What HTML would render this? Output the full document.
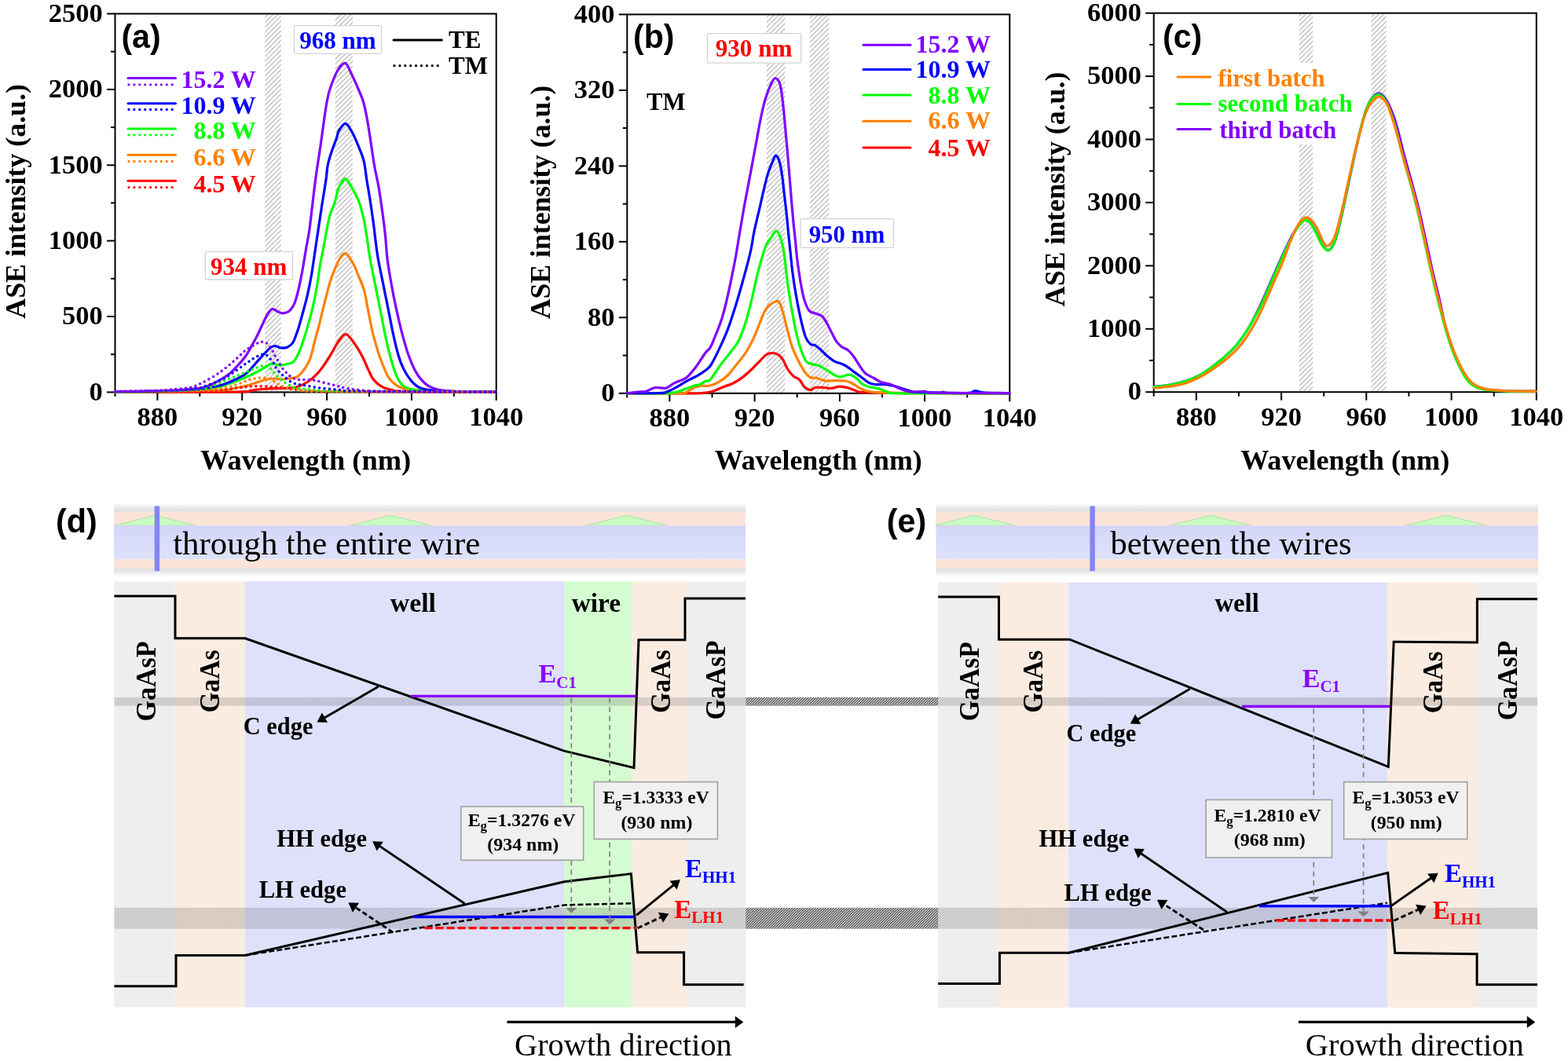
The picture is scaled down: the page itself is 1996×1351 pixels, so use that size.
<!DOCTYPE html><html><head><meta charset="utf-8"><title>ASE spectra and band diagrams</title><style>html,body{margin:0;padding:0;background:#fff;overflow:hidden}</style></head><body>
<svg width="1996" height="1351" viewBox="0 0 1996 1351" style="display:block">
<defs>
<pattern id="hv" patternUnits="userSpaceOnUse" width="6.2" height="6.2">
 <path d="M-1,1 L1,-1 M0,6.2 L6.2,0 M5.2,7.2 L7.2,5.2" stroke="#b0b0b0" stroke-width="1.1"/>
</pattern>
<pattern id="hd" patternUnits="userSpaceOnUse" width="3.3" height="3.3">
 <path d="M-1,1 L1,-1 M0,3.3 L3.3,0 M2.3,4.3 L4.3,2.3" stroke="#303030" stroke-width="1.25"/>
</pattern>
<pattern id="hl" patternUnits="userSpaceOnUse" width="3.3" height="3.3">
 <path d="M-1,1 L1,-1 M0,3.3 L3.3,0 M2.3,4.3 L4.3,2.3" stroke="#303030" stroke-opacity="0.33" stroke-width="1.25"/>
</pattern>
<linearGradient id="shTop" x1="0" y1="0" x2="0" y2="1"><stop offset="0" stop-color="#fff"/><stop offset="1" stop-color="#d9d9d9"/></linearGradient>
<linearGradient id="shBot" x1="0" y1="0" x2="0" y2="1"><stop offset="0" stop-color="#dcdcdc"/><stop offset="1" stop-color="#fff"/></linearGradient>
<linearGradient id="lav" x1="0" y1="0" x2="0" y2="1"><stop offset="0" stop-color="#d3d5f9"/><stop offset="1" stop-color="#dfe2fc"/></linearGradient>
</defs>
<rect x="0" y="0" width="1996" height="1351" fill="#fff"/>
<rect x="337.2" y="18.5" width="20.6" height="479.9" fill="url(#hv)"/>
<rect x="426.8" y="18.5" width="22.1" height="479.9" fill="url(#hv)"/>
<rect x="374.5" y="32.7" width="111.0" height="35.6" rx="1.5" fill="#fff" stroke="#d4d4d4" stroke-width="1.3"/>
<text x="381.2" y="61.6" font-family="'Liberation Serif','Times New Roman',serif" font-size="32.5" font-weight="bold" fill="#0000ff" text-anchor="start" textLength="97.5" lengthAdjust="spacingAndGlyphs" >968 nm</text>
<rect x="261.3" y="320.4" width="111.2" height="35.6" rx="1.5" fill="#fff" stroke="#d4d4d4" stroke-width="1.3"/>
<text x="268.0" y="350.0" font-family="'Liberation Serif','Times New Roman',serif" font-size="32.5" font-weight="bold" fill="#ff0000" text-anchor="start" textLength="97.4" lengthAdjust="spacingAndGlyphs" >934 nm</text>
<rect x="146.5" y="17.5" width="485.2" height="481.9" fill="none" stroke="#000" stroke-width="2"/>
<line x1="146.5" y1="499.4" x2="146.5" y2="504.9" stroke="#000" stroke-width="2"/>
<line x1="200.4" y1="499.4" x2="200.4" y2="509.9" stroke="#000" stroke-width="2"/>
<text x="200.4" y="542.3" font-family="'Liberation Serif','Times New Roman',serif" font-size="34.5" font-weight="bold" fill="#000" text-anchor="middle" >880</text>
<line x1="254.3" y1="499.4" x2="254.3" y2="504.9" stroke="#000" stroke-width="2"/>
<line x1="308.2" y1="499.4" x2="308.2" y2="509.9" stroke="#000" stroke-width="2"/>
<text x="308.2" y="542.3" font-family="'Liberation Serif','Times New Roman',serif" font-size="34.5" font-weight="bold" fill="#000" text-anchor="middle" >920</text>
<line x1="362.1" y1="499.4" x2="362.1" y2="504.9" stroke="#000" stroke-width="2"/>
<line x1="416.1" y1="499.4" x2="416.1" y2="509.9" stroke="#000" stroke-width="2"/>
<text x="416.1" y="542.3" font-family="'Liberation Serif','Times New Roman',serif" font-size="34.5" font-weight="bold" fill="#000" text-anchor="middle" >960</text>
<line x1="470.0" y1="499.4" x2="470.0" y2="504.9" stroke="#000" stroke-width="2"/>
<line x1="523.9" y1="499.4" x2="523.9" y2="509.9" stroke="#000" stroke-width="2"/>
<text x="523.9" y="542.3" font-family="'Liberation Serif','Times New Roman',serif" font-size="34.5" font-weight="bold" fill="#000" text-anchor="middle" >1000</text>
<line x1="577.8" y1="499.4" x2="577.8" y2="504.9" stroke="#000" stroke-width="2"/>
<line x1="631.7" y1="499.4" x2="631.7" y2="509.9" stroke="#000" stroke-width="2"/>
<text x="631.7" y="542.3" font-family="'Liberation Serif','Times New Roman',serif" font-size="34.5" font-weight="bold" fill="#000" text-anchor="middle" >1040</text>
<line x1="136.0" y1="499.4" x2="146.5" y2="499.4" stroke="#000" stroke-width="2"/>
<text x="130.7" y="509.6" font-family="'Liberation Serif','Times New Roman',serif" font-size="34.5" font-weight="bold" fill="#000" text-anchor="end" >0</text>
<line x1="141.0" y1="451.2" x2="146.5" y2="451.2" stroke="#000" stroke-width="2"/>
<line x1="136.0" y1="403.0" x2="146.5" y2="403.0" stroke="#000" stroke-width="2"/>
<text x="130.7" y="413.2" font-family="'Liberation Serif','Times New Roman',serif" font-size="34.5" font-weight="bold" fill="#000" text-anchor="end" >500</text>
<line x1="141.0" y1="354.8" x2="146.5" y2="354.8" stroke="#000" stroke-width="2"/>
<line x1="136.0" y1="306.6" x2="146.5" y2="306.6" stroke="#000" stroke-width="2"/>
<text x="130.7" y="316.8" font-family="'Liberation Serif','Times New Roman',serif" font-size="34.5" font-weight="bold" fill="#000" text-anchor="end" >1000</text>
<line x1="141.0" y1="258.4" x2="146.5" y2="258.4" stroke="#000" stroke-width="2"/>
<line x1="136.0" y1="210.3" x2="146.5" y2="210.3" stroke="#000" stroke-width="2"/>
<text x="130.7" y="220.5" font-family="'Liberation Serif','Times New Roman',serif" font-size="34.5" font-weight="bold" fill="#000" text-anchor="end" >1500</text>
<line x1="141.0" y1="162.1" x2="146.5" y2="162.1" stroke="#000" stroke-width="2"/>
<line x1="136.0" y1="113.9" x2="146.5" y2="113.9" stroke="#000" stroke-width="2"/>
<text x="130.7" y="124.1" font-family="'Liberation Serif','Times New Roman',serif" font-size="34.5" font-weight="bold" fill="#000" text-anchor="end" >2000</text>
<line x1="141.0" y1="65.7" x2="146.5" y2="65.7" stroke="#000" stroke-width="2"/>
<line x1="136.0" y1="17.5" x2="146.5" y2="17.5" stroke="#000" stroke-width="2"/>
<text x="130.7" y="27.7" font-family="'Liberation Serif','Times New Roman',serif" font-size="34.5" font-weight="bold" fill="#000" text-anchor="end" >2500</text>
<text x="389.1" y="597.5" font-family="'Liberation Serif','Times New Roman',serif" font-size="36.0" font-weight="bold" fill="#000" text-anchor="middle" textLength="268.0" lengthAdjust="spacingAndGlyphs" >Wavelength (nm)</text>
<g transform="translate(31.5,256.4) rotate(-90)">
<text x="0.0" y="0.0" font-family="'Liberation Serif','Times New Roman',serif" font-size="36.0" font-weight="bold" fill="#000" text-anchor="middle" textLength="298.7" lengthAdjust="spacingAndGlyphs" >ASE intensity (a.u.)</text>
</g>
<path d="M147.0,499.2 C172.5,499.2 271.2,499.4 300.0,499.0 C328.8,498.6 313.3,497.7 320.0,497.0 C326.7,496.3 333.3,495.4 340.0,495.0 C346.7,494.6 353.9,494.8 360.0,494.5 C366.1,494.2 371.4,494.4 376.8,493.0 C382.2,491.6 387.6,488.9 392.1,486.0 C396.6,483.1 400.3,479.7 404.0,475.7 C407.7,471.7 411.2,466.6 414.3,462.1 C417.4,457.6 420.0,453.2 422.8,448.5 C425.6,443.8 428.4,437.8 431.3,434.0 C434.2,430.2 437.1,425.1 440.3,425.5 C443.5,425.9 447.0,431.6 450.4,436.2 C453.8,440.8 457.7,447.4 460.7,453.0 C463.7,458.6 466.1,464.9 468.5,469.9 C470.9,474.9 472.2,479.1 475.0,482.8 C477.8,486.5 481.4,489.6 485.3,491.9 C489.2,494.2 492.9,495.3 498.3,496.4 C503.7,497.5 495.6,497.9 517.7,498.4 C539.8,498.9 612.1,499.1 631.0,499.2" fill="none" stroke="#ff0000" stroke-width="3.2" stroke-linejoin="round" stroke-linecap="round"/>
<path d="M147.0,499.0 C156.5,498.9 181.8,498.8 204.0,498.5 C226.2,498.2 264.0,497.8 280.0,497.0 C296.0,496.2 293.7,495.2 300.0,494.0 C306.3,492.8 313.0,491.3 318.0,490.0 C323.0,488.7 326.3,487.2 330.0,486.0 C333.7,484.8 336.7,483.7 340.0,483.0 C343.3,482.3 347.0,482.0 350.0,482.0 C353.0,482.0 355.0,483.0 358.0,483.0 C361.0,483.0 364.7,482.5 368.0,482.0 C371.3,481.5 375.0,481.7 378.0,480.0 C381.0,478.3 383.2,475.8 386.0,472.0 C388.8,468.2 392.0,464.0 394.5,457.5 C397.0,451.0 399.2,439.5 401.0,433.0 C402.8,426.5 403.6,423.6 405.0,418.4 C406.4,413.2 407.8,407.2 409.2,401.6 C410.6,396.0 412.0,390.3 413.4,384.7 C414.8,379.1 416.3,372.9 417.7,367.8 C419.1,362.7 420.3,358.5 421.9,353.8 C423.5,349.1 425.6,343.9 427.5,339.7 C429.4,335.5 431.0,331.2 433.1,328.4 C435.2,325.6 437.4,321.5 440.2,322.8 C443.0,324.1 447.4,331.8 450.0,336.2 C452.6,340.6 453.3,343.9 455.5,349.4 C457.7,354.8 461.1,361.3 463.3,368.9 C465.5,376.5 466.8,386.2 468.5,394.8 C470.2,403.4 472.0,413.1 473.7,420.7 C475.4,428.2 477.0,433.6 478.9,440.1 C480.8,446.6 482.7,452.8 485.3,459.5 C487.9,466.2 491.1,475.0 494.4,480.2 C497.6,485.4 500.5,487.9 504.8,490.6 C509.1,493.3 513.8,495.1 520.3,496.4 C526.8,497.7 525.1,498.0 543.6,498.4 C562.1,498.8 616.4,498.9 631.0,499.0" fill="none" stroke="#ff8000" stroke-width="3.2" stroke-linejoin="round" stroke-linecap="round"/>
<path d="M147.0,498.8 C156.5,498.7 183.5,499.0 204.0,498.2 C224.5,497.4 255.7,495.5 270.0,494.0 C284.3,492.5 284.3,490.7 290.0,489.0 C295.7,487.3 299.3,485.8 304.0,484.0 C308.7,482.2 313.7,480.0 318.0,478.0 C322.3,476.0 326.3,474.0 330.0,472.0 C333.7,470.0 337.2,467.5 340.0,466.0 C342.8,464.5 344.3,463.2 347.0,463.0 C349.7,462.8 352.5,465.0 356.0,465.0 C359.5,465.0 365.0,463.8 368.0,463.0 C371.0,462.2 372.0,462.2 374.0,460.0 C376.0,457.8 378.0,454.3 380.0,450.0 C382.0,445.7 384.2,439.3 386.0,434.0 C387.8,428.7 388.9,425.4 390.9,418.4 C392.9,411.3 395.9,400.8 398.0,391.7 C400.1,382.6 402.0,373.0 403.6,363.6 C405.2,354.2 406.4,343.7 407.8,335.5 C409.2,327.3 410.6,321.9 412.0,314.4 C413.4,306.9 414.9,297.5 416.3,290.5 C417.7,283.5 418.9,277.6 420.5,272.2 C422.1,266.8 424.5,263.3 426.1,258.1 C427.7,252.9 428.7,245.6 430.3,241.2 C431.9,236.8 433.9,233.7 435.5,231.5 C437.1,229.3 438.1,226.6 440.2,227.9 C442.3,229.2 445.4,234.5 448.2,239.4 C451.0,244.3 454.6,250.8 457.0,257.2 C459.4,263.6 461.1,270.5 462.8,278.0 C464.5,285.5 465.6,293.3 467.0,302.0 C468.4,310.7 469.1,318.9 471.1,330.0 C473.1,341.1 476.5,357.0 478.9,368.9 C481.3,380.8 483.1,390.4 485.3,401.2 C487.5,412.0 489.6,423.9 491.8,433.6 C494.0,443.3 496.1,451.9 498.3,459.5 C500.5,467.1 502.4,473.7 504.8,478.9 C507.2,484.1 509.3,487.8 512.5,490.6 C515.7,493.4 519.0,494.6 524.2,495.8 C529.4,497.0 536.1,497.3 543.6,497.7 C551.1,498.1 554.9,498.2 569.5,498.4 C584.1,498.6 620.8,498.9 631.0,499.0" fill="none" stroke="#00ff00" stroke-width="3.2" stroke-linejoin="round" stroke-linecap="round"/>
<path d="M147.0,498.8 C156.5,498.7 186.8,498.5 204.0,498.0 C221.2,497.5 239.0,496.8 250.0,496.0 C261.0,495.2 264.0,494.2 270.0,493.0 C276.0,491.8 281.0,490.7 286.0,489.0 C291.0,487.3 295.3,485.3 300.0,483.0 C304.7,480.7 309.7,478.5 314.0,475.0 C318.3,471.5 322.3,466.0 326.0,462.0 C329.7,458.0 333.0,454.2 336.0,451.0 C339.0,447.8 341.7,444.8 344.0,443.0 C346.3,441.2 347.7,440.5 350.0,440.5 C352.3,440.5 355.3,442.8 358.0,443.0 C360.7,443.2 363.5,443.2 366.0,442.0 C368.5,440.8 370.7,439.9 373.0,436.0 C375.3,432.1 377.6,424.6 379.7,418.4 C381.8,412.2 383.4,405.6 385.3,398.8 C387.2,392.0 389.0,385.9 390.9,377.7 C392.8,369.5 395.0,358.9 396.6,349.5 C398.2,340.1 399.4,330.8 400.8,321.4 C402.2,312.0 403.6,302.7 405.0,293.3 C406.4,283.9 407.6,275.8 409.2,265.2 C410.8,254.6 413.5,239.0 414.8,230.0 C416.1,221.0 416.0,216.8 417.1,211.0 C418.2,205.2 419.6,200.9 421.5,195.0 C423.4,189.1 427.0,180.2 428.6,175.5 C430.2,170.8 429.4,169.6 431.3,166.6 C433.2,163.6 437.0,157.0 439.8,157.3 C442.6,157.6 445.3,163.2 448.2,168.3 C451.1,173.4 454.5,181.7 457.0,187.9 C459.5,194.1 461.7,198.8 463.3,205.6 C464.9,212.4 465.5,220.4 466.8,228.7 C468.1,237.0 469.8,246.0 471.2,255.4 C472.6,264.8 474.3,275.9 475.5,285.0 C476.7,294.1 477.5,302.5 478.5,310.0 C479.5,317.5 479.8,321.3 481.4,330.0 C483.0,338.7 485.7,351.6 487.9,362.4 C490.1,373.2 492.2,384.0 494.4,394.8 C496.6,405.6 498.8,417.4 500.9,427.1 C503.0,436.8 505.2,445.9 507.3,453.0 C509.4,460.1 511.2,464.7 513.8,469.9 C516.4,475.1 519.6,480.2 522.9,484.1 C526.1,488.0 528.8,491.0 533.3,493.2 C537.8,495.4 542.3,496.2 550.1,497.1 C557.9,498.0 566.5,498.2 580.0,498.5 C593.5,498.8 622.5,498.9 631.0,499.0" fill="none" stroke="#0000ff" stroke-width="3.2" stroke-linejoin="round" stroke-linecap="round"/>
<path d="M147.0,498.5 C152.5,498.4 170.5,498.2 180.0,498.0 C189.5,497.8 195.7,497.8 204.0,497.5 C212.3,497.2 220.7,497.2 230.0,496.5 C239.3,495.8 252.0,494.9 260.0,493.0 C268.0,491.1 272.7,487.8 278.0,485.0 C283.3,482.2 287.8,479.3 292.0,476.0 C296.2,472.7 299.5,468.8 303.0,465.0 C306.5,461.2 310.2,457.0 313.0,453.0 C315.8,449.0 318.0,444.5 320.0,441.0 C322.0,437.5 323.3,435.2 325.0,432.0 C326.7,428.8 328.0,426.2 330.0,422.0 C332.0,417.8 335.0,411.0 337.0,407.0 C339.0,403.0 340.3,400.2 342.0,398.0 C343.7,395.8 345.0,393.7 347.0,393.5 C349.0,393.3 351.8,396.1 354.0,397.0 C356.2,397.9 357.6,399.0 360.0,398.8 C362.4,398.6 365.8,398.2 368.4,395.9 C371.0,393.5 373.4,390.1 375.5,384.7 C377.6,379.3 379.5,370.6 381.1,363.6 C382.7,356.6 383.9,350.2 385.3,342.5 C386.7,334.8 388.1,325.4 389.5,317.2 C390.9,309.0 392.4,303.1 393.8,293.3 C395.2,283.5 396.6,270.0 398.0,258.1 C399.4,246.2 400.8,234.3 402.5,222.0 C404.2,209.7 406.5,195.9 408.2,184.3 C409.9,172.7 411.2,161.9 412.6,152.4 C414.0,142.9 415.2,134.3 416.5,127.5 C417.8,120.7 418.4,117.7 420.6,111.5 C422.8,105.3 426.4,95.4 429.5,90.2 C432.6,85.0 436.5,80.1 439.3,80.4 C442.1,80.7 443.7,86.8 446.4,92.0 C449.1,97.2 452.6,105.3 455.3,111.5 C458.0,117.7 460.5,123.1 462.4,129.3 C464.3,135.5 465.3,141.1 466.8,148.8 C468.3,156.5 469.6,165.1 471.2,175.5 C472.8,185.9 474.8,200.7 476.6,211.0 C478.4,221.3 480.1,227.2 481.9,237.6 C483.7,247.9 485.8,262.7 487.2,273.1 C488.6,283.5 489.5,290.5 490.5,300.0 C491.5,309.5 491.8,319.6 493.1,330.0 C494.4,340.4 496.4,351.6 498.3,362.4 C500.2,373.2 502.4,384.0 504.8,394.8 C507.2,405.6 509.9,417.4 512.5,427.1 C515.1,436.8 517.7,445.6 520.3,453.0 C522.9,460.4 525.5,466.2 528.1,471.2 C530.7,476.2 532.8,479.4 535.8,482.8 C538.8,486.2 541.7,489.5 546.2,491.9 C550.7,494.3 555.7,496.0 563.0,497.1 C570.3,498.2 578.7,498.3 590.0,498.6 C601.3,498.9 624.2,498.9 631.0,499.0" fill="none" stroke="#8000ff" stroke-width="3.2" stroke-linejoin="round" stroke-linecap="round"/>
<path d="M147.0,499.2 C164.2,499.1 226.2,499.1 250.0,498.5 C273.8,497.9 280.0,496.4 290.0,495.5 C300.0,494.6 305.0,493.6 310.0,493.0 C315.0,492.4 315.0,492.2 320.0,492.0 C325.0,491.8 334.2,491.8 340.0,492.0 C345.8,492.2 350.0,492.4 355.0,493.0 C360.0,493.6 364.2,494.8 370.0,495.5 C375.8,496.2 381.7,497.0 390.0,497.5 C398.3,498.0 379.8,498.4 420.0,498.7 C460.2,499.0 595.8,499.1 631.0,499.2" fill="none" stroke="#ff0000" stroke-width="3.6" stroke-linecap="round" stroke-dasharray="0 6.4"/>
<path d="M147.0,499.0 C156.5,498.9 183.5,499.1 204.0,498.6 C224.5,498.1 255.7,496.9 270.0,496.0 C284.3,495.1 285.0,494.0 290.0,493.0 C295.0,492.0 296.8,491.0 300.0,490.0 C303.2,489.0 306.3,488.0 309.0,487.0 C311.7,486.0 313.8,484.8 316.0,484.0 C318.2,483.2 319.7,483.0 322.0,482.5 C324.3,482.0 327.7,481.2 330.0,481.0 C332.3,480.8 334.0,480.8 336.0,481.0 C338.0,481.2 340.0,481.3 342.0,482.0 C344.0,482.7 346.0,483.8 348.0,485.0 C350.0,486.2 352.0,487.8 354.0,489.0 C356.0,490.2 358.0,491.2 360.0,492.0 C362.0,492.8 362.7,493.2 366.0,494.0 C369.3,494.8 372.7,495.8 380.0,496.5 C387.3,497.2 368.2,497.9 410.0,498.3 C451.8,498.7 594.2,498.9 631.0,499.0" fill="none" stroke="#ff8000" stroke-width="3.6" stroke-linecap="round" stroke-dasharray="0 6.4"/>
<path d="M147.0,499.0 C156.5,498.9 185.2,499.0 204.0,498.3 C222.8,497.6 247.7,496.7 260.0,495.0 C272.3,493.3 273.0,490.0 278.0,488.0 C283.0,486.0 285.8,484.7 290.0,483.0 C294.2,481.3 299.2,479.5 303.0,478.0 C306.8,476.5 310.2,475.2 313.0,474.0 C315.8,472.8 317.8,471.9 320.0,471.0 C322.2,470.1 323.8,469.3 326.0,468.5 C328.2,467.7 330.7,466.4 333.0,466.0 C335.3,465.6 338.0,465.3 340.0,466.0 C342.0,466.7 343.5,468.5 345.0,470.0 C346.5,471.5 347.5,473.3 349.0,475.0 C350.5,476.7 352.2,478.3 354.0,480.0 C355.8,481.7 358.2,483.6 360.0,485.0 C361.8,486.4 363.2,487.3 365.0,488.5 C366.8,489.7 368.8,491.1 371.0,492.0 C373.2,492.9 373.2,493.2 378.0,494.0 C382.8,494.8 391.3,495.8 400.0,496.5 C408.7,497.2 391.5,497.6 430.0,498.0 C468.5,498.4 597.5,498.8 631.0,499.0" fill="none" stroke="#00ff00" stroke-width="3.6" stroke-linecap="round" stroke-dasharray="0 6.4"/>
<path d="M147.0,498.8 C156.5,498.6 186.8,498.4 204.0,497.8 C221.2,497.2 240.2,496.1 250.0,495.0 C259.8,493.9 258.7,492.5 263.0,491.0 C267.3,489.5 272.0,487.7 276.0,486.0 C280.0,484.3 283.2,483.2 287.0,481.0 C290.8,478.8 295.2,475.7 299.0,473.0 C302.8,470.3 307.2,467.0 310.0,465.0 C312.8,463.0 314.2,462.2 316.0,461.0 C317.8,459.8 319.2,458.7 321.0,457.5 C322.8,456.3 325.0,455.0 327.0,454.0 C329.0,453.0 331.0,451.8 333.0,451.5 C335.0,451.2 337.2,451.1 339.0,452.0 C340.8,452.9 342.5,455.3 344.0,457.0 C345.5,458.7 346.8,460.2 348.0,462.0 C349.2,463.8 349.8,466.2 351.0,468.0 C352.2,469.8 353.5,471.3 355.0,473.0 C356.5,474.7 358.3,476.5 360.0,478.0 C361.7,479.5 363.3,480.7 365.0,482.0 C366.7,483.3 368.0,484.8 370.0,486.0 C372.0,487.2 374.8,488.3 377.0,489.0 C379.2,489.7 380.8,489.7 383.0,490.0 C385.2,490.3 386.5,490.4 390.0,491.0 C393.5,491.6 397.4,492.7 404.0,493.6 C410.6,494.5 421.1,495.5 429.6,496.2 C438.1,496.9 421.4,497.4 455.0,497.9 C488.6,498.4 601.7,498.8 631.0,499.0" fill="none" stroke="#0000ff" stroke-width="3.6" stroke-linecap="round" stroke-dasharray="0 6.4"/>
<path d="M147.0,498.5 C156.5,498.2 188.8,497.8 204.0,497.0 C219.2,496.2 230.3,495.0 238.0,494.0 C245.7,493.0 247.0,492.0 250.0,491.0 C253.0,490.0 254.0,489.0 256.0,488.0 C258.0,487.0 259.0,486.7 262.0,485.0 C265.0,483.3 270.3,480.3 274.0,478.0 C277.7,475.7 280.7,473.5 284.0,471.0 C287.3,468.5 290.7,465.8 294.0,463.0 C297.3,460.2 300.7,457.0 304.0,454.0 C307.3,451.0 310.3,447.7 314.0,445.0 C317.7,442.3 323.0,439.6 326.0,438.0 C329.0,436.4 330.0,435.8 332.0,435.5 C334.0,435.2 336.2,435.1 338.0,436.0 C339.8,436.9 341.5,439.2 343.0,441.0 C344.5,442.8 345.8,445.0 347.0,447.0 C348.2,449.0 349.0,451.2 350.0,453.0 C351.0,454.8 351.9,456.2 353.0,458.0 C354.1,459.8 355.3,462.1 356.5,464.0 C357.7,465.9 358.6,467.7 360.0,469.5 C361.4,471.3 363.3,473.3 365.0,475.0 C366.7,476.7 368.0,478.2 370.0,479.5 C372.0,480.8 374.8,482.3 377.0,483.0 C379.2,483.7 380.8,483.4 383.0,483.5 C385.2,483.6 387.1,483.4 390.0,483.5 C392.9,483.6 396.6,483.6 400.6,484.3 C404.7,485.0 409.8,486.6 414.3,487.7 C418.9,488.8 423.4,490.0 427.9,491.1 C432.4,492.2 435.8,493.5 441.5,494.5 C447.2,495.5 454.0,496.3 461.9,497.0 C469.8,497.7 460.9,498.4 489.1,498.7 C517.3,499.0 607.4,498.9 631.0,499.0" fill="none" stroke="#8000ff" stroke-width="3.6" stroke-linecap="round" stroke-dasharray="0 6.4"/>
<text x="154.4" y="60.6" font-family="'Liberation Sans',Arial,sans-serif" font-size="42.5" font-weight="bold" fill="#000" text-anchor="start" textLength="50.4" lengthAdjust="spacingAndGlyphs" >(a)</text>
<line x1="163" y1="99.5" x2="223.5" y2="99.5" stroke="#8000ff" stroke-width="3" stroke-linecap="round"/>
<line x1="164" y1="107.8" x2="221" y2="107.8" stroke="#8000ff" stroke-width="3.3" stroke-linecap="round" stroke-dasharray="0 6.9"/>
<text x="325.8" y="112.0" font-family="'Liberation Serif','Times New Roman',serif" font-size="32.0" font-weight="bold" fill="#8000ff" text-anchor="end" >15.2 W</text>
<line x1="163" y1="131.8" x2="223.5" y2="131.8" stroke="#0000ff" stroke-width="3" stroke-linecap="round"/>
<line x1="164" y1="139.5" x2="221" y2="139.5" stroke="#0000ff" stroke-width="3.3" stroke-linecap="round" stroke-dasharray="0 6.9"/>
<text x="325.8" y="145.3" font-family="'Liberation Serif','Times New Roman',serif" font-size="32.0" font-weight="bold" fill="#0000ff" text-anchor="end" >10.9 W</text>
<line x1="163" y1="163.9" x2="223.5" y2="163.9" stroke="#00ff00" stroke-width="3" stroke-linecap="round"/>
<line x1="164" y1="171.8" x2="221" y2="171.8" stroke="#00ff00" stroke-width="3.3" stroke-linecap="round" stroke-dasharray="0 6.9"/>
<text x="325.8" y="177.4" font-family="'Liberation Serif','Times New Roman',serif" font-size="32.0" font-weight="bold" fill="#00ff00" text-anchor="end" >8.8 W</text>
<line x1="163" y1="197.2" x2="223.5" y2="197.2" stroke="#ff8000" stroke-width="3" stroke-linecap="round"/>
<line x1="164" y1="205.5" x2="221" y2="205.5" stroke="#ff8000" stroke-width="3.3" stroke-linecap="round" stroke-dasharray="0 6.9"/>
<text x="325.8" y="210.7" font-family="'Liberation Serif','Times New Roman',serif" font-size="32.0" font-weight="bold" fill="#ff8000" text-anchor="end" >6.6 W</text>
<line x1="163" y1="230.3" x2="223.5" y2="230.3" stroke="#ff0000" stroke-width="3" stroke-linecap="round"/>
<line x1="164" y1="238.6" x2="221" y2="238.6" stroke="#ff0000" stroke-width="3.3" stroke-linecap="round" stroke-dasharray="0 6.9"/>
<text x="325.8" y="245.3" font-family="'Liberation Serif','Times New Roman',serif" font-size="32.0" font-weight="bold" fill="#ff0000" text-anchor="end" >4.5 W</text>
<line x1="501" y1="51" x2="562.4" y2="51" stroke="#000" stroke-width="3" stroke-linecap="round"/>
<line x1="502" y1="83.7" x2="558" y2="83.7" stroke="#000" stroke-width="3.3" stroke-linecap="round" stroke-dasharray="0 6.9"/>
<text x="571.1" y="60.6" font-family="'Liberation Serif','Times New Roman',serif" font-size="31.0" font-weight="bold" fill="#000" text-anchor="start" >TE</text>
<text x="571.1" y="93.7" font-family="'Liberation Serif','Times New Roman',serif" font-size="31.0" font-weight="bold" fill="#000" text-anchor="start" >TM</text>
<rect x="975.8" y="19.4" width="23.6" height="480.4" fill="url(#hv)"/>
<rect x="1030.9" y="19.4" width="24.5" height="480.4" fill="url(#hv)"/>
<rect x="900.4" y="42.6" width="119.2" height="37.6" rx="1.5" fill="#fff" stroke="#d4d4d4" stroke-width="1.3"/>
<text x="910.7" y="72.4" font-family="'Liberation Serif','Times New Roman',serif" font-size="32.5" font-weight="bold" fill="#ff0000" text-anchor="start" textLength="97.8" lengthAdjust="spacingAndGlyphs" >930 nm</text>
<rect x="1018.9" y="278.6" width="118.6" height="36.7" rx="1.5" fill="#fff" stroke="#d4d4d4" stroke-width="1.3"/>
<text x="1029.7" y="308.5" font-family="'Liberation Serif','Times New Roman',serif" font-size="32.5" font-weight="bold" fill="#0000ff" text-anchor="start" textLength="96.6" lengthAdjust="spacingAndGlyphs" >950 nm</text>
<rect x="798.3" y="18.4" width="487.0" height="482.4" fill="none" stroke="#000" stroke-width="2"/>
<line x1="798.3" y1="500.8" x2="798.3" y2="506.3" stroke="#000" stroke-width="2"/>
<line x1="852.4" y1="500.8" x2="852.4" y2="511.3" stroke="#000" stroke-width="2"/>
<text x="852.4" y="543.3" font-family="'Liberation Serif','Times New Roman',serif" font-size="34.5" font-weight="bold" fill="#000" text-anchor="middle" >880</text>
<line x1="906.5" y1="500.8" x2="906.5" y2="506.3" stroke="#000" stroke-width="2"/>
<line x1="960.6" y1="500.8" x2="960.6" y2="511.3" stroke="#000" stroke-width="2"/>
<text x="960.6" y="543.3" font-family="'Liberation Serif','Times New Roman',serif" font-size="34.5" font-weight="bold" fill="#000" text-anchor="middle" >920</text>
<line x1="1014.7" y1="500.8" x2="1014.7" y2="506.3" stroke="#000" stroke-width="2"/>
<line x1="1068.9" y1="500.8" x2="1068.9" y2="511.3" stroke="#000" stroke-width="2"/>
<text x="1068.9" y="543.3" font-family="'Liberation Serif','Times New Roman',serif" font-size="34.5" font-weight="bold" fill="#000" text-anchor="middle" >960</text>
<line x1="1123.0" y1="500.8" x2="1123.0" y2="506.3" stroke="#000" stroke-width="2"/>
<line x1="1177.1" y1="500.8" x2="1177.1" y2="511.3" stroke="#000" stroke-width="2"/>
<text x="1177.1" y="543.3" font-family="'Liberation Serif','Times New Roman',serif" font-size="34.5" font-weight="bold" fill="#000" text-anchor="middle" >1000</text>
<line x1="1231.2" y1="500.8" x2="1231.2" y2="506.3" stroke="#000" stroke-width="2"/>
<line x1="1285.3" y1="500.8" x2="1285.3" y2="511.3" stroke="#000" stroke-width="2"/>
<text x="1285.3" y="543.3" font-family="'Liberation Serif','Times New Roman',serif" font-size="34.5" font-weight="bold" fill="#000" text-anchor="middle" >1040</text>
<line x1="787.8" y1="500.8" x2="798.3" y2="500.8" stroke="#000" stroke-width="2"/>
<text x="782.5" y="511.0" font-family="'Liberation Serif','Times New Roman',serif" font-size="34.5" font-weight="bold" fill="#000" text-anchor="end" >0</text>
<line x1="792.8" y1="452.6" x2="798.3" y2="452.6" stroke="#000" stroke-width="2"/>
<line x1="787.8" y1="404.3" x2="798.3" y2="404.3" stroke="#000" stroke-width="2"/>
<text x="782.5" y="414.5" font-family="'Liberation Serif','Times New Roman',serif" font-size="34.5" font-weight="bold" fill="#000" text-anchor="end" >80</text>
<line x1="792.8" y1="356.1" x2="798.3" y2="356.1" stroke="#000" stroke-width="2"/>
<line x1="787.8" y1="307.8" x2="798.3" y2="307.8" stroke="#000" stroke-width="2"/>
<text x="782.5" y="318.0" font-family="'Liberation Serif','Times New Roman',serif" font-size="34.5" font-weight="bold" fill="#000" text-anchor="end" >160</text>
<line x1="792.8" y1="259.6" x2="798.3" y2="259.6" stroke="#000" stroke-width="2"/>
<line x1="787.8" y1="211.4" x2="798.3" y2="211.4" stroke="#000" stroke-width="2"/>
<text x="782.5" y="221.6" font-family="'Liberation Serif','Times New Roman',serif" font-size="34.5" font-weight="bold" fill="#000" text-anchor="end" >240</text>
<line x1="792.8" y1="163.1" x2="798.3" y2="163.1" stroke="#000" stroke-width="2"/>
<line x1="787.8" y1="114.9" x2="798.3" y2="114.9" stroke="#000" stroke-width="2"/>
<text x="782.5" y="125.1" font-family="'Liberation Serif','Times New Roman',serif" font-size="34.5" font-weight="bold" fill="#000" text-anchor="end" >320</text>
<line x1="792.8" y1="66.6" x2="798.3" y2="66.6" stroke="#000" stroke-width="2"/>
<line x1="787.8" y1="18.4" x2="798.3" y2="18.4" stroke="#000" stroke-width="2"/>
<text x="782.5" y="28.6" font-family="'Liberation Serif','Times New Roman',serif" font-size="34.5" font-weight="bold" fill="#000" text-anchor="end" >400</text>
<text x="1041.8" y="597.5" font-family="'Liberation Serif','Times New Roman',serif" font-size="36.0" font-weight="bold" fill="#000" text-anchor="middle" textLength="264.0" lengthAdjust="spacingAndGlyphs" >Wavelength (nm)</text>
<g transform="translate(700.0,257.6) rotate(-90)">
<text x="0.0" y="0.0" font-family="'Liberation Serif','Times New Roman',serif" font-size="36.0" font-weight="bold" fill="#000" text-anchor="middle" textLength="297.3" lengthAdjust="spacingAndGlyphs" >ASE intensity (a.u.)</text>
</g>
<path d="M798.5,500.8 C812.1,500.8 864.2,500.9 880.0,500.8 C895.8,500.8 889.1,500.8 893.4,500.5 C897.6,500.2 901.0,500.1 905.5,498.8 C910.0,497.5 916.2,494.5 920.7,492.7 C925.2,490.9 928.8,490.2 932.8,488.2 C936.8,486.2 941.0,483.6 945.0,480.6 C949.0,477.6 953.6,473.3 957.1,470.0 C960.6,466.7 963.2,463.9 966.2,460.8 C969.2,457.8 972.5,453.6 975.3,451.7 C978.1,449.8 980.4,449.5 982.9,449.5 C985.4,449.5 988.2,450.3 990.5,451.7 C992.8,453.1 994.6,454.8 996.6,457.8 C998.6,460.9 1000.3,466.4 1002.6,470.0 C1004.9,473.6 1007.7,476.8 1010.2,479.1 C1012.7,481.4 1015.5,481.3 1017.8,483.6 C1020.1,485.9 1021.6,490.6 1023.9,492.7 C1026.2,494.8 1029.2,496.4 1031.5,496.5 C1033.8,496.6 1034.7,494.0 1037.5,493.5 C1040.3,493.0 1045.7,493.4 1048.2,493.5 C1050.7,493.6 1050.5,493.9 1052.5,494.0 C1054.5,494.1 1057.3,494.5 1060.0,494.2 C1062.7,493.9 1065.5,492.1 1068.8,492.1 C1072.1,492.1 1076.5,493.1 1080.1,494.0 C1083.6,494.9 1086.3,496.8 1090.1,497.7 C1093.8,498.6 1085.9,499.1 1102.6,499.6 C1119.2,500.1 1173.7,500.6 1190.0,500.5 C1206.3,500.4 1197.0,499.0 1200.3,499.0 C1203.6,499.0 1195.9,500.2 1210.0,500.5 C1224.1,500.8 1272.5,500.8 1285.0,500.8" fill="none" stroke="#ff0000" stroke-width="3.2" stroke-linejoin="round" stroke-linecap="round"/>
<path d="M798.5,500.8 C809.6,500.8 852.8,500.9 865.0,500.8 C877.2,500.8 868.5,501.7 871.6,500.5 C874.7,499.3 879.9,495.2 883.4,493.6 C886.9,492.1 889.7,491.6 892.9,491.2 C896.1,490.8 898.9,492.0 902.5,491.2 C906.1,490.4 910.6,488.9 914.6,486.6 C918.6,484.3 922.8,481.5 926.8,477.5 C930.8,473.5 935.1,467.2 938.9,462.4 C942.7,457.6 946.2,453.8 949.5,448.7 C952.8,443.6 955.8,437.8 958.6,432.0 C961.4,426.2 963.9,419.4 966.2,413.8 C968.5,408.2 970.3,402.7 972.3,398.6 C974.3,394.6 975.6,392.0 978.4,389.5 C981.2,387.0 986.5,383.8 989.0,383.5 C991.5,383.2 992.0,384.7 993.5,388.0 C995.0,391.3 996.6,397.6 998.1,403.2 C999.6,408.8 1000.8,414.8 1002.6,421.4 C1004.4,428.0 1006.4,436.3 1008.7,442.6 C1011.0,448.9 1013.8,454.2 1016.3,459.3 C1018.8,464.4 1021.4,469.4 1023.9,473.0 C1026.4,476.6 1029.0,479.2 1031.5,480.6 C1034.0,482.0 1036.3,480.7 1039.1,481.3 C1041.9,481.9 1046.0,483.8 1048.2,484.4 C1050.4,485.0 1049.7,485.2 1052.5,485.2 C1055.3,485.2 1060.8,484.6 1065.0,484.6 C1069.2,484.6 1074.0,484.5 1077.6,485.2 C1081.1,485.9 1083.2,487.3 1086.3,489.0 C1089.4,490.7 1092.6,493.5 1096.4,495.2 C1100.2,496.9 1103.7,498.2 1108.9,499.0 C1114.1,499.8 1119.2,499.9 1127.7,500.2 C1136.2,500.4 1152.7,500.8 1160.0,500.5 C1167.3,500.2 1168.2,498.4 1171.5,498.4 C1174.8,498.4 1161.1,500.1 1180.0,500.5 C1198.9,500.9 1267.5,500.8 1285.0,500.8" fill="none" stroke="#ff8000" stroke-width="3.2" stroke-linejoin="round" stroke-linecap="round"/>
<path d="M798.5,500.8 C806.3,500.8 835.2,501.0 845.5,500.8 C855.8,500.6 856.2,500.1 860.0,499.5 C863.8,498.9 864.1,498.5 868.0,497.1 C871.9,495.7 879.7,492.4 883.4,491.2 C887.1,490.0 887.7,490.7 890.3,489.7 C892.9,488.7 896.5,486.0 898.8,485.0 C901.1,484.0 900.9,487.1 904.0,483.6 C907.1,480.1 913.4,469.7 917.7,463.9 C922.0,458.1 926.0,453.8 929.8,448.7 C933.6,443.6 937.1,440.1 940.4,433.5 C943.7,426.9 946.7,418.2 949.5,409.3 C952.3,400.4 954.8,389.8 957.1,380.4 C959.4,371.0 961.2,361.5 963.2,353.1 C965.2,344.8 967.3,337.1 969.3,330.3 C971.3,323.5 973.4,316.5 975.3,312.1 C977.2,307.7 978.7,306.8 980.8,303.8 C982.9,300.8 985.8,294.3 987.9,294.0 C990.0,293.7 991.5,297.2 993.2,302.0 C994.9,306.8 996.5,313.0 998.1,322.8 C999.7,332.6 1000.8,348.1 1002.6,360.7 C1004.4,373.3 1006.7,387.2 1008.7,398.6 C1010.7,410.0 1012.8,420.6 1014.8,429.0 C1016.8,437.4 1018.8,443.4 1020.8,448.7 C1022.8,454.0 1024.6,458.4 1026.9,460.9 C1029.2,463.4 1032.0,463.1 1034.5,463.9 C1037.0,464.6 1039.1,464.1 1042.1,465.4 C1045.1,466.6 1048.7,469.1 1052.5,471.4 C1056.3,473.6 1061.9,477.5 1065.0,478.9 C1068.1,480.3 1068.6,479.9 1071.3,479.6 C1074.0,479.3 1078.2,476.8 1081.3,477.1 C1084.4,477.4 1087.4,479.5 1090.1,481.5 C1092.8,483.5 1094.9,487.1 1097.6,489.0 C1100.3,490.9 1103.1,491.8 1106.4,492.7 C1109.8,493.6 1113.7,493.6 1117.7,494.6 C1121.7,495.7 1125.4,497.9 1130.2,499.0 C1135.0,500.1 1120.7,500.6 1146.5,500.9 C1172.3,501.2 1261.9,500.8 1285.0,500.8" fill="none" stroke="#00ff00" stroke-width="3.2" stroke-linejoin="round" stroke-linecap="round"/>
<path d="M798.5,500.7 C805.4,500.7 831.4,500.9 840.0,500.5 C848.6,500.1 846.6,499.7 850.3,498.3 C854.0,496.9 858.1,494.6 862.1,492.4 C866.1,490.2 869.6,487.7 874.0,485.3 C878.4,482.9 884.1,480.6 888.2,478.2 C892.3,475.8 895.9,473.5 898.8,471.1 C901.7,468.7 902.4,469.1 905.5,463.9 C908.6,458.6 914.2,447.2 917.7,439.6 C921.2,432.0 923.8,426.5 926.8,418.4 C929.8,410.3 933.1,399.9 935.9,391.0 C938.7,382.1 941.0,374.2 943.5,365.3 C946.0,356.4 948.9,345.8 951.0,337.9 C953.1,330.0 954.4,325.1 955.9,318.0 C957.4,310.9 958.2,303.6 960.0,295.0 C961.8,286.4 964.6,275.1 966.6,266.5 C968.6,257.9 970.1,250.8 971.9,243.4 C973.7,236.0 975.4,228.0 977.2,222.1 C979.0,216.2 980.9,211.9 982.6,207.9 C984.3,203.9 985.9,198.4 987.5,198.1 C989.1,197.8 990.9,201.5 992.3,206.1 C993.7,210.7 994.9,218.5 995.9,225.6 C996.9,232.7 997.6,241.0 998.5,248.7 C999.4,256.4 1000.4,263.8 1001.2,271.8 C1002.1,279.9 1002.8,289.0 1003.6,297.0 C1004.4,305.0 1005.1,311.9 1006.0,320.0 C1006.9,328.1 1007.5,336.2 1008.7,345.5 C1009.9,354.8 1011.5,365.8 1013.3,375.9 C1015.1,386.0 1017.3,397.3 1019.3,406.2 C1021.3,415.1 1023.4,423.7 1025.4,429.0 C1027.4,434.3 1029.5,436.3 1031.5,438.1 C1033.5,439.9 1035.2,438.3 1037.5,439.6 C1039.8,440.9 1042.6,443.5 1045.1,445.7 C1047.6,447.9 1049.7,450.6 1052.6,453.0 C1055.5,455.4 1059.4,458.5 1062.5,460.2 C1065.6,461.9 1068.8,462.3 1071.3,463.3 C1073.8,464.3 1074.9,464.6 1077.6,466.4 C1080.3,468.2 1084.5,471.6 1087.6,473.9 C1090.7,476.2 1093.3,477.9 1096.4,480.2 C1099.5,482.5 1103.3,486.1 1106.4,487.7 C1109.5,489.3 1111.7,489.3 1115.2,489.6 C1118.8,489.9 1123.5,489.2 1127.7,489.6 C1131.9,490.0 1136.5,491.2 1140.2,492.1 C1144.0,493.0 1146.5,494.1 1150.2,495.2 C1154.0,496.3 1158.1,498.3 1162.7,499.0 C1167.3,499.7 1166.6,499.4 1177.8,499.6 C1189.0,499.9 1219.4,500.8 1230.0,500.5 C1240.6,500.2 1237.9,497.8 1241.6,497.7 C1245.3,497.6 1244.8,499.3 1252.0,499.8 C1259.2,500.3 1279.5,500.6 1285.0,500.7" fill="none" stroke="#0000ff" stroke-width="3.2" stroke-linejoin="round" stroke-linecap="round"/>
<path d="M798.5,500.7 C800.8,500.4 808.1,499.4 812.0,499.0 C815.9,498.6 818.4,499.4 822.0,498.5 C825.6,497.6 829.4,494.3 833.7,493.6 C838.0,492.9 843.8,495.1 847.9,494.1 C852.0,493.1 854.5,489.7 858.6,487.6 C862.8,485.5 869.2,483.9 872.8,481.7 C876.3,479.5 877.3,477.6 879.9,474.6 C882.5,471.7 885.2,468.1 888.2,464.0 C891.2,459.9 895.0,453.3 897.6,449.7 C900.2,446.1 901.9,446.1 904.0,442.6 C906.1,439.2 907.7,434.6 910.0,429.0 C912.3,423.4 915.4,416.1 917.7,409.3 C920.0,402.5 921.7,396.1 923.7,388.0 C925.7,379.9 927.8,370.3 929.8,360.7 C931.8,351.1 933.9,340.9 935.9,330.3 C937.9,319.7 939.6,307.9 941.5,297.0 C943.4,286.1 945.2,274.8 947.0,264.7 C948.8,254.6 950.6,245.8 952.4,236.3 C954.2,226.8 955.9,217.4 957.7,207.9 C959.5,198.4 961.2,189.0 963.0,179.5 C964.8,170.0 966.5,159.6 968.3,151.0 C970.1,142.4 971.6,135.1 973.7,128.0 C975.8,120.9 978.6,113.2 980.8,108.4 C983.0,103.7 984.9,99.5 987.0,99.5 C989.1,99.5 991.6,102.8 993.2,108.4 C994.8,114.0 995.8,124.7 996.8,133.3 C997.8,141.9 998.5,150.4 999.4,159.9 C1000.3,169.4 1001.2,179.7 1002.1,190.1 C1003.0,200.5 1003.9,211.4 1004.8,222.1 C1005.7,232.8 1006.5,243.7 1007.4,254.1 C1008.3,264.5 1009.3,275.8 1010.1,284.3 C1010.9,292.8 1011.5,297.3 1012.3,305.0 C1013.1,312.7 1013.6,321.0 1014.8,330.3 C1016.0,339.6 1017.8,352.1 1019.3,360.7 C1020.8,369.3 1022.1,376.1 1023.9,381.9 C1025.7,387.7 1027.5,392.7 1030.0,395.6 C1032.5,398.5 1036.4,398.2 1039.1,399.4 C1041.8,400.5 1044.1,400.5 1046.3,402.5 C1048.5,404.5 1050.4,407.8 1052.5,411.3 C1054.6,414.9 1056.7,419.8 1058.8,423.8 C1060.9,427.8 1062.9,432.2 1065.0,435.1 C1067.1,438.0 1068.8,439.5 1071.3,441.4 C1073.8,443.3 1077.4,444.1 1080.1,446.4 C1082.8,448.7 1085.3,452.1 1087.6,455.2 C1089.9,458.3 1091.6,461.9 1093.9,465.2 C1096.2,468.5 1098.3,472.5 1101.4,475.2 C1104.5,477.9 1109.3,479.6 1112.6,481.5 C1115.9,483.4 1117.9,485.1 1121.4,486.5 C1125.0,487.9 1129.7,488.2 1133.9,489.6 C1138.1,491.1 1142.3,493.6 1146.5,495.2 C1150.7,496.8 1153.8,498.5 1159.0,499.0 C1164.2,499.5 1172.6,498.2 1177.8,498.4 C1183.0,498.6 1172.4,499.8 1190.3,500.2 C1208.2,500.6 1269.2,500.6 1285.0,500.7" fill="none" stroke="#8000ff" stroke-width="3.2" stroke-linejoin="round" stroke-linecap="round"/>
<text x="806.0" y="61.0" font-family="'Liberation Sans',Arial,sans-serif" font-size="42.5" font-weight="bold" fill="#000" text-anchor="start" textLength="52.6" lengthAdjust="spacingAndGlyphs" >(b)</text>
<text x="822.9" y="140.0" font-family="'Liberation Serif','Times New Roman',serif" font-size="31.0" font-weight="bold" fill="#000" text-anchor="start" textLength="49.5" lengthAdjust="spacingAndGlyphs" >TM</text>
<line x1="1099" y1="57.3" x2="1159" y2="57.3" stroke="#8000ff" stroke-width="3" stroke-linecap="round"/>
<text x="1261.0" y="67.3" font-family="'Liberation Serif','Times New Roman',serif" font-size="32.0" font-weight="bold" fill="#8000ff" text-anchor="end" >15.2 W</text>
<line x1="1099" y1="88.6" x2="1159" y2="88.6" stroke="#0000ff" stroke-width="3" stroke-linecap="round"/>
<text x="1261.0" y="99.3" font-family="'Liberation Serif','Times New Roman',serif" font-size="32.0" font-weight="bold" fill="#0000ff" text-anchor="end" >10.9 W</text>
<line x1="1099" y1="121.0" x2="1159" y2="121.0" stroke="#00ff00" stroke-width="3" stroke-linecap="round"/>
<text x="1261.0" y="131.9" font-family="'Liberation Serif','Times New Roman',serif" font-size="32.0" font-weight="bold" fill="#00ff00" text-anchor="end" >8.8 W</text>
<line x1="1099" y1="154.3" x2="1159" y2="154.3" stroke="#ff8000" stroke-width="3" stroke-linecap="round"/>
<text x="1261.0" y="163.9" font-family="'Liberation Serif','Times New Roman',serif" font-size="32.0" font-weight="bold" fill="#ff8000" text-anchor="end" >6.6 W</text>
<line x1="1099" y1="187.9" x2="1159" y2="187.9" stroke="#ff0000" stroke-width="3" stroke-linecap="round"/>
<text x="1261.0" y="199.2" font-family="'Liberation Serif','Times New Roman',serif" font-size="32.0" font-weight="bold" fill="#ff0000" text-anchor="end" >4.5 W</text>
<rect x="1653.9" y="17.7" width="17.4" height="480.5" fill="url(#hv)"/>
<rect x="1745.5" y="17.7" width="19.3" height="480.5" fill="url(#hv)"/>
<rect x="1490" y="80" width="240" height="104" fill="#fff"/>
<rect x="1468.7" y="16.7" width="487.1" height="482.5" fill="none" stroke="#000" stroke-width="2"/>
<line x1="1468.7" y1="499.2" x2="1468.7" y2="504.7" stroke="#000" stroke-width="2"/>
<line x1="1522.8" y1="499.2" x2="1522.8" y2="509.7" stroke="#000" stroke-width="2"/>
<text x="1522.8" y="542.0" font-family="'Liberation Serif','Times New Roman',serif" font-size="34.5" font-weight="bold" fill="#000" text-anchor="middle" >880</text>
<line x1="1576.9" y1="499.2" x2="1576.9" y2="504.7" stroke="#000" stroke-width="2"/>
<line x1="1631.1" y1="499.2" x2="1631.1" y2="509.7" stroke="#000" stroke-width="2"/>
<text x="1631.1" y="542.0" font-family="'Liberation Serif','Times New Roman',serif" font-size="34.5" font-weight="bold" fill="#000" text-anchor="middle" >920</text>
<line x1="1685.2" y1="499.2" x2="1685.2" y2="504.7" stroke="#000" stroke-width="2"/>
<line x1="1739.3" y1="499.2" x2="1739.3" y2="509.7" stroke="#000" stroke-width="2"/>
<text x="1739.3" y="542.0" font-family="'Liberation Serif','Times New Roman',serif" font-size="34.5" font-weight="bold" fill="#000" text-anchor="middle" >960</text>
<line x1="1793.4" y1="499.2" x2="1793.4" y2="504.7" stroke="#000" stroke-width="2"/>
<line x1="1847.6" y1="499.2" x2="1847.6" y2="509.7" stroke="#000" stroke-width="2"/>
<text x="1847.6" y="542.0" font-family="'Liberation Serif','Times New Roman',serif" font-size="34.5" font-weight="bold" fill="#000" text-anchor="middle" >1000</text>
<line x1="1901.7" y1="499.2" x2="1901.7" y2="504.7" stroke="#000" stroke-width="2"/>
<line x1="1955.8" y1="499.2" x2="1955.8" y2="509.7" stroke="#000" stroke-width="2"/>
<text x="1955.8" y="542.0" font-family="'Liberation Serif','Times New Roman',serif" font-size="34.5" font-weight="bold" fill="#000" text-anchor="middle" >1040</text>
<line x1="1458.2" y1="499.2" x2="1468.7" y2="499.2" stroke="#000" stroke-width="2"/>
<text x="1452.9" y="509.4" font-family="'Liberation Serif','Times New Roman',serif" font-size="34.5" font-weight="bold" fill="#000" text-anchor="end" >0</text>
<line x1="1463.2" y1="459.0" x2="1468.7" y2="459.0" stroke="#000" stroke-width="2"/>
<line x1="1458.2" y1="418.8" x2="1468.7" y2="418.8" stroke="#000" stroke-width="2"/>
<text x="1452.9" y="429.0" font-family="'Liberation Serif','Times New Roman',serif" font-size="34.5" font-weight="bold" fill="#000" text-anchor="end" >1000</text>
<line x1="1463.2" y1="378.6" x2="1468.7" y2="378.6" stroke="#000" stroke-width="2"/>
<line x1="1458.2" y1="338.4" x2="1468.7" y2="338.4" stroke="#000" stroke-width="2"/>
<text x="1452.9" y="348.6" font-family="'Liberation Serif','Times New Roman',serif" font-size="34.5" font-weight="bold" fill="#000" text-anchor="end" >2000</text>
<line x1="1463.2" y1="298.2" x2="1468.7" y2="298.2" stroke="#000" stroke-width="2"/>
<line x1="1458.2" y1="257.9" x2="1468.7" y2="257.9" stroke="#000" stroke-width="2"/>
<text x="1452.9" y="268.1" font-family="'Liberation Serif','Times New Roman',serif" font-size="34.5" font-weight="bold" fill="#000" text-anchor="end" >3000</text>
<line x1="1463.2" y1="217.7" x2="1468.7" y2="217.7" stroke="#000" stroke-width="2"/>
<line x1="1458.2" y1="177.5" x2="1468.7" y2="177.5" stroke="#000" stroke-width="2"/>
<text x="1452.9" y="187.7" font-family="'Liberation Serif','Times New Roman',serif" font-size="34.5" font-weight="bold" fill="#000" text-anchor="end" >4000</text>
<line x1="1463.2" y1="137.3" x2="1468.7" y2="137.3" stroke="#000" stroke-width="2"/>
<line x1="1458.2" y1="97.1" x2="1468.7" y2="97.1" stroke="#000" stroke-width="2"/>
<text x="1452.9" y="107.3" font-family="'Liberation Serif','Times New Roman',serif" font-size="34.5" font-weight="bold" fill="#000" text-anchor="end" >5000</text>
<line x1="1463.2" y1="56.9" x2="1468.7" y2="56.9" stroke="#000" stroke-width="2"/>
<line x1="1458.2" y1="16.7" x2="1468.7" y2="16.7" stroke="#000" stroke-width="2"/>
<text x="1452.9" y="26.9" font-family="'Liberation Serif','Times New Roman',serif" font-size="34.5" font-weight="bold" fill="#000" text-anchor="end" >6000</text>
<text x="1712.2" y="597.5" font-family="'Liberation Serif','Times New Roman',serif" font-size="36.0" font-weight="bold" fill="#000" text-anchor="middle" textLength="266.0" lengthAdjust="spacingAndGlyphs" >Wavelength (nm)</text>
<g transform="translate(1354.5,240.9) rotate(-90)">
<text x="0.0" y="0.0" font-family="'Liberation Serif','Times New Roman',serif" font-size="36.0" font-weight="bold" fill="#000" text-anchor="middle" textLength="298.7" lengthAdjust="spacingAndGlyphs" >ASE intensity (a.u.)</text>
</g>
<path d="M1469.4,492.4 C1472.9,491.9 1483.7,490.9 1490.3,489.7 C1496.9,488.5 1502.9,487.0 1508.8,485.2 C1514.7,483.4 1519.9,481.6 1525.5,478.7 C1531.1,475.8 1536.6,471.8 1542.2,467.7 C1547.8,463.6 1553.6,459.1 1558.9,454.4 C1564.2,449.7 1569.0,445.4 1574.1,439.3 C1579.1,433.2 1584.3,426.1 1589.2,418.0 C1594.1,409.9 1599.3,399.2 1603.3,391.0 C1607.3,382.8 1609.9,376.5 1613.2,369.0 C1616.5,361.5 1620.0,353.2 1623.2,346.0 C1626.4,338.8 1629.2,332.5 1632.2,326.0 C1635.2,319.5 1638.5,312.3 1641.2,307.0 C1643.9,301.7 1645.7,297.9 1648.2,294.0 C1650.7,290.1 1654.0,286.0 1656.2,283.7 C1658.4,281.4 1659.6,280.0 1661.6,280.0 C1663.6,280.0 1666.0,281.1 1668.3,283.7 C1670.6,286.3 1672.8,291.0 1675.3,295.7 C1677.8,300.4 1680.7,307.9 1683.3,311.7 C1685.9,315.5 1688.5,318.9 1690.9,318.7 C1693.3,318.5 1695.7,314.9 1697.8,310.7 C1699.9,306.5 1701.2,301.5 1703.3,293.7 C1705.4,285.9 1708.0,274.2 1710.3,263.7 C1712.6,253.2 1715.0,241.7 1717.3,230.7 C1719.6,219.7 1722.0,208.2 1724.3,197.7 C1726.6,187.2 1728.9,177.1 1731.3,167.7 C1733.7,158.3 1736.1,148.3 1738.5,141.4 C1740.9,134.5 1742.9,130.2 1745.5,126.4 C1748.1,122.6 1751.1,119.0 1754.1,118.8 C1757.1,118.6 1760.3,121.0 1763.5,125.4 C1766.7,129.8 1770.2,137.9 1773.0,145.0 C1775.8,152.1 1777.7,159.5 1780.0,168.0 C1782.3,176.5 1784.2,185.3 1787.0,196.0 C1789.8,206.7 1793.8,220.3 1797.0,232.0 C1800.2,243.7 1803.0,253.7 1806.0,266.0 C1809.0,278.3 1812.0,292.5 1815.0,306.0 C1818.0,319.5 1821.0,334.0 1824.0,347.0 C1827.0,360.0 1830.3,372.2 1833.0,384.0 C1835.7,395.8 1837.6,407.4 1840.3,417.7 C1843.0,428.0 1846.0,436.9 1849.3,445.7 C1852.6,454.5 1856.6,463.8 1860.3,470.7 C1864.0,477.6 1866.8,483.1 1871.3,487.2 C1875.8,491.3 1880.2,493.5 1887.3,495.2 C1894.4,496.9 1902.5,497.0 1913.8,497.5 C1925.1,498.0 1948.4,498.0 1955.3,498.1" fill="none" stroke="#8000ff" stroke-width="3.2" stroke-linejoin="round" stroke-linecap="round"/>
<path d="M1469.1,492.7 C1472.6,492.2 1483.4,491.2 1490.0,490.0 C1496.6,488.8 1502.6,487.3 1508.5,485.5 C1514.4,483.7 1519.6,481.9 1525.2,479.0 C1530.8,476.1 1536.3,472.1 1541.9,468.0 C1547.5,463.9 1553.3,459.4 1558.6,454.7 C1563.9,450.0 1568.8,445.7 1573.8,439.6 C1578.8,433.5 1583.9,426.4 1588.9,418.3 C1594.0,410.2 1599.9,399.2 1604.1,391.0 C1608.3,382.8 1610.7,376.5 1614.0,369.0 C1617.3,361.5 1620.8,353.2 1624.0,346.0 C1627.2,338.8 1630.0,332.5 1633.0,326.0 C1636.0,319.5 1639.3,312.3 1642.0,307.0 C1644.7,301.7 1646.7,297.8 1649.0,294.0 C1651.3,290.2 1653.9,286.3 1655.9,284.0 C1658.0,281.7 1659.3,280.3 1661.3,280.3 C1663.3,280.3 1665.7,281.4 1668.0,284.0 C1670.3,286.6 1672.5,291.3 1675.0,296.0 C1677.5,300.7 1680.4,308.2 1683.0,312.0 C1685.6,315.8 1688.2,319.2 1690.6,319.0 C1693.0,318.8 1695.4,315.2 1697.5,311.0 C1699.6,306.8 1700.9,301.8 1703.0,294.0 C1705.1,286.2 1707.7,274.5 1710.0,264.0 C1712.3,253.5 1714.7,242.0 1717.0,231.0 C1719.3,220.0 1721.7,208.5 1724.0,198.0 C1726.3,187.5 1728.7,177.2 1731.0,168.0 C1733.3,158.8 1735.7,149.7 1738.0,143.0 C1740.3,136.3 1742.4,131.8 1745.0,128.0 C1747.6,124.2 1750.6,120.6 1753.6,120.4 C1756.6,120.2 1760.1,122.9 1763.0,127.0 C1765.9,131.1 1768.5,138.2 1771.0,145.0 C1773.5,151.8 1775.7,159.5 1778.0,168.0 C1780.3,176.5 1782.2,185.3 1785.0,196.0 C1787.8,206.7 1791.8,220.3 1795.0,232.0 C1798.2,243.7 1801.0,253.7 1804.0,266.0 C1807.0,278.3 1810.0,292.5 1813.0,306.0 C1816.0,319.5 1819.0,334.0 1822.0,347.0 C1825.0,360.0 1828.0,372.2 1831.0,384.0 C1834.0,395.8 1837.0,407.7 1840.0,418.0 C1843.0,428.3 1845.7,437.2 1849.0,446.0 C1852.3,454.8 1856.3,464.1 1860.0,471.0 C1863.7,477.9 1866.5,483.4 1871.0,487.5 C1875.5,491.6 1879.9,493.8 1887.0,495.5 C1894.1,497.2 1902.2,497.3 1913.5,497.8 C1924.8,498.3 1948.1,498.3 1955.0,498.4" fill="none" stroke="#00ff00" stroke-width="3.2" stroke-linejoin="round" stroke-linecap="round"/>
<path d="M1469.1,494.2 C1472.6,493.8 1483.7,492.9 1490.3,491.9 C1496.9,490.9 1502.7,489.9 1508.5,488.1 C1514.3,486.3 1519.6,484.1 1525.2,481.3 C1530.8,478.5 1536.3,475.1 1541.9,471.4 C1547.5,467.7 1553.3,463.6 1558.6,459.3 C1563.9,455.0 1569.2,450.4 1573.8,445.6 C1578.3,440.8 1581.6,436.8 1585.9,430.5 C1590.2,424.2 1595.3,415.8 1599.6,407.7 C1603.9,399.6 1607.9,390.2 1611.7,381.9 C1615.5,373.5 1618.8,365.7 1622.3,357.6 C1625.8,349.5 1629.6,341.5 1632.9,333.4 C1636.2,325.3 1639.3,315.8 1642.0,309.1 C1644.7,302.4 1646.5,297.6 1648.8,293.0 C1651.1,288.4 1653.5,283.9 1655.9,281.2 C1658.3,278.5 1660.6,276.8 1663.0,276.8 C1665.4,276.8 1667.7,278.7 1670.1,281.2 C1672.5,283.7 1674.8,287.4 1677.2,291.9 C1679.6,296.3 1682.3,304.3 1684.4,307.9 C1686.5,311.4 1687.6,313.5 1689.7,313.2 C1691.8,312.9 1694.7,309.7 1696.8,306.1 C1698.9,302.6 1700.0,299.0 1702.1,291.9 C1704.2,284.8 1706.8,273.5 1709.2,263.4 C1711.6,253.3 1713.9,242.2 1716.3,231.5 C1718.7,220.8 1721.0,209.6 1723.4,199.5 C1725.8,189.4 1728.1,180.0 1730.5,171.1 C1732.9,162.2 1735.2,152.7 1737.6,146.2 C1740.0,139.7 1742.0,135.8 1744.8,132.0 C1747.6,128.2 1751.2,123.4 1754.5,123.1 C1757.8,122.8 1761.5,126.0 1764.3,130.2 C1767.1,134.3 1769.0,141.2 1771.4,148.0 C1773.8,154.8 1776.1,162.4 1778.5,171.1 C1780.9,179.8 1783.1,189.5 1786.0,200.0 C1788.9,210.5 1792.9,222.6 1796.1,233.9 C1799.3,245.2 1802.1,255.3 1805.1,267.7 C1808.1,280.1 1811.2,294.8 1814.2,308.4 C1817.2,321.9 1820.2,336.2 1823.2,349.0 C1826.2,361.8 1829.2,373.4 1832.2,385.1 C1835.2,396.8 1838.3,408.9 1841.3,419.0 C1844.3,429.1 1846.9,437.4 1850.3,446.0 C1853.7,454.6 1857.8,464.1 1861.6,470.9 C1865.4,477.7 1868.4,482.8 1872.9,486.7 C1877.4,490.6 1881.9,492.8 1888.7,494.6 C1895.5,496.4 1902.5,496.9 1913.5,497.5 C1924.5,498.1 1948.1,498.2 1955.0,498.4" fill="none" stroke="#ff8000" stroke-width="3.2" stroke-linejoin="round" stroke-linecap="round"/>
<text x="1480.1" y="61.0" font-family="'Liberation Sans',Arial,sans-serif" font-size="42.5" font-weight="bold" fill="#000" text-anchor="start" textLength="50.2" lengthAdjust="spacingAndGlyphs" >(c)</text>
<line x1="1499" y1="98.0" x2="1541" y2="98.0" stroke="#ff8000" stroke-width="3" stroke-linecap="round"/>
<text x="1550.5" y="109.7" font-family="'Liberation Serif','Times New Roman',serif" font-size="31.0" font-weight="bold" fill="#ff8000" text-anchor="start" textLength="136.2" lengthAdjust="spacingAndGlyphs" >first batch</text>
<line x1="1499" y1="132.5" x2="1541" y2="132.5" stroke="#00ff00" stroke-width="3" stroke-linecap="round"/>
<text x="1550.5" y="141.6" font-family="'Liberation Serif','Times New Roman',serif" font-size="31.0" font-weight="bold" fill="#00ff00" text-anchor="start" textLength="171.3" lengthAdjust="spacingAndGlyphs" >second batch</text>
<line x1="1499" y1="164.4" x2="1541" y2="164.4" stroke="#8000ff" stroke-width="3" stroke-linecap="round"/>
<text x="1552.3" y="176.2" font-family="'Liberation Serif','Times New Roman',serif" font-size="31.0" font-weight="bold" fill="#8000ff" text-anchor="start" >third batch</text>
<text x="71.1" y="678.2" font-family="'Liberation Sans',Arial,sans-serif" font-size="42.5" font-weight="bold" fill="#000" text-anchor="start" textLength="52.8" lengthAdjust="spacingAndGlyphs" >(d)</text>
<rect x="145.0" y="640.4" width="804.1" height="11.3" fill="url(#shTop)"/>
<rect x="145.0" y="651.5" width="804.1" height="17.8" fill="#fbe4d7"/>
<path d="M145.5,669.3 L145.5,669.2 L197.5,656 L249.5,669.2 L249.5,669.3 Z" fill="#c8fbc0" stroke="#a9d9a5" stroke-width="0.8"/>
<path d="M445.5,669.3 L445.5,669.2 L497.5,656 L549.5,669.2 L549.5,669.3 Z" fill="#c8fbc0" stroke="#a9d9a5" stroke-width="0.8"/>
<path d="M745.7,669.3 L745.7,669.2 L797.7,656 L849.7,669.2 L849.7,669.3 Z" fill="#c8fbc0" stroke="#a9d9a5" stroke-width="0.8"/>
<rect x="145.0" y="669.2" width="804.1" height="43" fill="url(#lav)"/>
<rect x="145.0" y="712.2" width="804.1" height="11.6" fill="#fbe4d7"/>
<rect x="145.0" y="723.8" width="804.1" height="10.6" fill="url(#shBot)"/>
<rect x="196.7" y="644.4" width="6.4" height="82.8" fill="#8585f2"/>
<text x="220.2" y="706.4" font-family="'Liberation Serif','Times New Roman',serif" font-size="43.0" font-weight="normal" fill="#000" text-anchor="start" textLength="391.0" lengthAdjust="spacingAndGlyphs" >through the entire wire</text>
<rect x="145.4" y="740.4" width="76.9" height="542.2" fill="#eeeeee"/>
<rect x="222.3" y="740.4" width="89.7" height="542.2" fill="#fbece1"/>
<rect x="312.0" y="740.4" width="406.1" height="542.2" fill="#dfe1fb"/>
<rect x="718.1" y="740.4" width="87.3" height="542.2" fill="#d5fcd0"/>
<rect x="805.4" y="740.4" width="67.6" height="542.2" fill="#fbece1"/>
<rect x="873.0" y="740.4" width="76.1" height="542.2" fill="#eeeeee"/>
<text x="1128.8" y="678.2" font-family="'Liberation Sans',Arial,sans-serif" font-size="42.5" font-weight="bold" fill="#000" text-anchor="start" textLength="50.4" lengthAdjust="spacingAndGlyphs" >(e)</text>
<rect x="1191.5" y="640.4" width="766.5" height="11.3" fill="url(#shTop)"/>
<rect x="1191.5" y="651.5" width="766.5" height="17.8" fill="#fbe4d7"/>
<path d="M1191.5,669.3 L1191.5,668.4 L1240.2,656 L1292.2,669.2 L1292.2,669.3 Z" fill="#c8fbc0" stroke="#a9d9a5" stroke-width="0.8"/>
<path d="M1488.5,669.3 L1488.5,669.2 L1540.5,656 L1592.5,669.2 L1592.5,669.3 Z" fill="#c8fbc0" stroke="#a9d9a5" stroke-width="0.8"/>
<path d="M1788.7,669.3 L1788.7,669.2 L1840.7,656 L1892.7,669.2 L1892.7,669.3 Z" fill="#c8fbc0" stroke="#a9d9a5" stroke-width="0.8"/>
<rect x="1191.5" y="669.2" width="766.5" height="43" fill="url(#lav)"/>
<rect x="1191.5" y="712.2" width="766.5" height="11.6" fill="#fbe4d7"/>
<rect x="1191.5" y="723.8" width="766.5" height="10.6" fill="url(#shBot)"/>
<rect x="1387.4" y="644.4" width="6.4" height="82.8" fill="#8585f2"/>
<text x="1413.4" y="706.4" font-family="'Liberation Serif','Times New Roman',serif" font-size="43.0" font-weight="normal" fill="#000" text-anchor="start" textLength="307.2" lengthAdjust="spacingAndGlyphs" >between the wires</text>
<rect x="1194.2" y="741.6" width="76.6" height="541.4" fill="#eeeeee"/>
<rect x="1270.8" y="741.6" width="89.5" height="541.4" fill="#fbece1"/>
<rect x="1360.3" y="741.6" width="405.9" height="541.4" fill="#dfe1fb"/>
<rect x="1766.2" y="741.6" width="113.8" height="541.4" fill="#fbece1"/>
<rect x="1880.0" y="741.6" width="77.0" height="541.4" fill="#eeeeee"/>
<rect x="949.2" y="887.9" width="245.0" height="10.8" fill="url(#hd)"/>
<rect x="145.4" y="887.9" width="803.8" height="10.8" fill="url(#hl)"/>
<rect x="1194.2" y="887.9" width="762.8" height="10.8" fill="url(#hl)"/>
<rect x="949.2" y="1155.8" width="245.0" height="26.9" fill="url(#hd)"/>
<rect x="145.4" y="1155.8" width="803.8" height="26.9" fill="url(#hl)"/>
<rect x="1194.2" y="1155.8" width="762.8" height="26.9" fill="url(#hl)"/>
<path d="M145.4,759.0 L223.0,759.0 L223.0,812.8 L312.0,812.8 L718.1,956.1 L807.0,977.7 L813.0,814.7 L872.0,814.7 L872.0,762.0 L949.0,762.0" fill="none" stroke="#000" stroke-width="3.0" stroke-linejoin="miter" />
<path d="M145.4,1255.8 L224.0,1255.8 L224.0,1216.5 L312.0,1216.5 L718.2,1122.8 L803.4,1112.6 L811.6,1212.8 L870.6,1212.8 L870.6,1253.7 L946.7,1253.7" fill="none" stroke="#000" stroke-width="3.0" stroke-linejoin="miter" />
<path d="M312.0,1216.5 L718.2,1152.4 L803.4,1150.2" fill="none" stroke="#000" stroke-width="2.5" stroke-linejoin="miter" stroke-dasharray="7 3.2" />
<line x1="523.3" y1="886.3" x2="809.5" y2="886.3" stroke="#8b00ff" stroke-width="3.3"/>
<line x1="526.3" y1="1167.5" x2="806.6" y2="1167.5" stroke="#0000ff" stroke-width="3.4"/>
<line x1="540.5" y1="1181.6" x2="810" y2="1181.6" stroke="#ff0000" stroke-width="3.4" stroke-dasharray="10.2 3.8"/>
<line x1="727.3" y1="888.7" x2="727.3" y2="1156.2" stroke="#808080" stroke-width="1.7" stroke-dasharray="6.5 5"/>
<path d="M727.3,1162.7 L720.1,1155.9 L734.5,1155.9 Z" fill="#808080"/>
<line x1="776.1" y1="888.7" x2="776.1" y2="1170.8" stroke="#808080" stroke-width="1.7" stroke-dasharray="6.5 5"/>
<path d="M776.1,1177.3 L768.9,1170.5 L783.3,1170.5 Z" fill="#808080"/>
<line x1="481.7" y1="874.3" x2="412.6" y2="914.2" stroke="#000" stroke-width="2.9"/>
<path d="M403.5,919.4 L409.9,907.4 L417.1,919.9 Z" fill="#000"/>
<line x1="591.4" y1="1150.5" x2="482.9" y2="1077.1" stroke="#000" stroke-width="2.9"/>
<path d="M474.2,1071.2 L487.8,1071.7 L479.7,1083.6 Z" fill="#000"/>
<line x1="500.2" y1="1187.2" x2="452.1" y2="1155.1" stroke="#000" stroke-width="2.9" stroke-dasharray="6.5 3.5"/>
<path d="M443.4,1149.3 L457.0,1149.7 L449.0,1161.7 Z" fill="#000"/>
<line x1="810.2" y1="1165.3" x2="857.8" y2="1126.6" stroke="#000" stroke-width="2.9"/>
<path d="M866.0,1120.0 L861.6,1132.8 L852.5,1121.7 Z" fill="#000"/>
<line x1="811.6" y1="1181.8" x2="841.9" y2="1167.8" stroke="#000" stroke-width="2.9" stroke-dasharray="6.5 3.5"/>
<path d="M851.4,1163.4 L844.0,1174.8 L837.9,1161.7 Z" fill="#000"/>
<text x="496.8" y="779.3" font-family="'Liberation Serif','Times New Roman',serif" font-size="33.5" font-weight="bold" fill="#000" text-anchor="start" textLength="58.2" lengthAdjust="spacingAndGlyphs" >well</text>
<text x="727.7" y="779.0" font-family="'Liberation Serif','Times New Roman',serif" font-size="33.5" font-weight="bold" fill="#000" text-anchor="start" textLength="62.5" lengthAdjust="spacingAndGlyphs" >wire</text>
<g transform="translate(198.0,867.5) rotate(-90)">
<text x="0.0" y="0.0" font-family="'Liberation Serif','Times New Roman',serif" font-size="36.0" font-weight="bold" fill="#000" text-anchor="middle" textLength="101.8" lengthAdjust="spacingAndGlyphs" >GaAsP</text>
</g>
<g transform="translate(279.3,867.5) rotate(-90)">
<text x="0.0" y="0.0" font-family="'Liberation Serif','Times New Roman',serif" font-size="36.0" font-weight="bold" fill="#000" text-anchor="middle" textLength="79.8" lengthAdjust="spacingAndGlyphs" >GaAs</text>
</g>
<g transform="translate(852.8,867.7) rotate(-90)">
<text x="0.0" y="0.0" font-family="'Liberation Serif','Times New Roman',serif" font-size="36.0" font-weight="bold" fill="#000" text-anchor="middle" textLength="80.6" lengthAdjust="spacingAndGlyphs" >GaAs</text>
</g>
<g transform="translate(922.5,865.9) rotate(-90)">
<text x="0.0" y="0.0" font-family="'Liberation Serif','Times New Roman',serif" font-size="36.0" font-weight="bold" fill="#000" text-anchor="middle" textLength="101.0" lengthAdjust="spacingAndGlyphs" >GaAsP</text>
</g>
<text x="309.8" y="935.4" font-family="'Liberation Serif','Times New Roman',serif" font-size="30.5" font-weight="bold" fill="#000" text-anchor="start" textLength="88.7" lengthAdjust="spacingAndGlyphs" >C edge</text>
<text x="352.2" y="1078.3" font-family="'Liberation Serif','Times New Roman',serif" font-size="30.5" font-weight="bold" fill="#000" text-anchor="start" textLength="114.8" lengthAdjust="spacingAndGlyphs" >HH edge</text>
<text x="329.7" y="1143.0" font-family="'Liberation Serif','Times New Roman',serif" font-size="30.5" font-weight="bold" fill="#000" text-anchor="start" textLength="111.3" lengthAdjust="spacingAndGlyphs" >LH edge</text>
<text x="685.6" y="869.0" font-family="'Liberation Serif','Times New Roman',serif" font-weight="bold" font-size="34.0" fill="#8b00ff">E<tspan font-size="21.0" dy="6.5">C1</tspan></text>
<text x="872.0" y="1117.3" font-family="'Liberation Serif','Times New Roman',serif" font-weight="bold" font-size="33.0" fill="#0000ff">E<tspan font-size="21.0" dy="6.7">HH1</tspan></text>
<text x="858.3" y="1168.9" font-family="'Liberation Serif','Times New Roman',serif" font-weight="bold" font-size="33.0" fill="#ff0000">E<tspan font-size="21.0" dy="6.1">LH1</tspan></text>
<rect x="586.8" y="1027.0" width="155.9" height="68.3" fill="#f0f0f0" stroke="#a0a0a0" stroke-width="1.6"/>
<text x="595.7" y="1052.2" font-family="'Liberation Serif','Times New Roman',serif" font-weight="bold" font-size="22.5" fill="#000" textLength="136.7" lengthAdjust="spacingAndGlyphs">E<tspan font-size="16" dy="5">g</tspan><tspan dy="-5">=1.3276 eV</tspan></text>
<text x="665.8" y="1082.8" font-family="'Liberation Serif','Times New Roman',serif" font-size="22.5" font-weight="bold" fill="#000" text-anchor="middle" textLength="91.0" lengthAdjust="spacingAndGlyphs" >(934 nm)</text>
<rect x="756.3" y="995.6" width="157.2" height="72.8" fill="#f0f0f0" stroke="#a0a0a0" stroke-width="1.6"/>
<text x="767.4" y="1023.2" font-family="'Liberation Serif','Times New Roman',serif" font-weight="bold" font-size="22.5" fill="#000" textLength="135.4" lengthAdjust="spacingAndGlyphs">E<tspan font-size="16" dy="5">g</tspan><tspan dy="-5">=1.3333 eV</tspan></text>
<text x="835.9" y="1054.7" font-family="'Liberation Serif','Times New Roman',serif" font-size="22.5" font-weight="bold" fill="#000" text-anchor="middle" textLength="91.0" lengthAdjust="spacingAndGlyphs" >(930 nm)</text>
<line x1="645.5" y1="1301.4" x2="936.8" y2="1301.4" stroke="#000" stroke-width="3.3"/>
<path d="M946.3,1301.4 L935.8,1309.1 L935.8,1293.7 Z" fill="#000"/>
<text x="655.0" y="1343.8" font-family="'Liberation Serif','Times New Roman',serif" font-size="40.5" font-weight="normal" fill="#000" text-anchor="start" textLength="276.8" lengthAdjust="spacingAndGlyphs" >Growth direction</text>
<path d="M1194.2,759.9 L1271.5,759.9 L1271.5,814.2 L1361.4,814.2 L1767.3,976.3 L1774.2,817.3 L1880.4,818.0 L1880.4,762.7 L1957.0,762.7" fill="none" stroke="#000" stroke-width="3.0" stroke-linejoin="miter" />
<path d="M1194.2,1252.5 L1272.5,1252.5 L1272.5,1213.3 L1360.4,1213.3 L1766.7,1111.3 L1775.8,1213.4 L1880.1,1214.8 L1880.1,1253.8 L1957.0,1253.8" fill="none" stroke="#000" stroke-width="3.0" stroke-linejoin="miter" />
<path d="M1360.4,1213.3 L1766.0,1149.7" fill="none" stroke="#000" stroke-width="2.5" stroke-linejoin="miter" stroke-dasharray="7 3.2" />
<line x1="1581" y1="899.5" x2="1769" y2="899.5" stroke="#8b00ff" stroke-width="3.3"/>
<line x1="1603.1" y1="1153.8" x2="1768.9" y2="1153.8" stroke="#0000ff" stroke-width="3.4"/>
<line x1="1624.5" y1="1172" x2="1771.6" y2="1172" stroke="#ff0000" stroke-width="3.4" stroke-dasharray="10.2 3.8"/>
<line x1="1672.3" y1="902.5" x2="1672.3" y2="1142.3" stroke="#808080" stroke-width="1.7" stroke-dasharray="6.5 5"/>
<path d="M1672.3,1148.8 L1665.1,1142.0 L1679.5,1142.0 Z" fill="#808080"/>
<line x1="1735.6" y1="902.5" x2="1735.6" y2="1160.7" stroke="#808080" stroke-width="1.7" stroke-dasharray="6.5 5"/>
<path d="M1735.6,1167.2 L1728.4,1160.4 L1742.8,1160.4 Z" fill="#808080"/>
<line x1="1514.6" y1="877.3" x2="1447.9" y2="916.2" stroke="#000" stroke-width="2.9"/>
<path d="M1438.8,921.5 L1445.1,909.5 L1452.4,921.9 Z" fill="#000"/>
<line x1="1561.7" y1="1161.2" x2="1452.0" y2="1086.5" stroke="#000" stroke-width="2.9"/>
<path d="M1443.3,1080.6 L1456.9,1081.1 L1448.8,1093.0 Z" fill="#000"/>
<line x1="1532.0" y1="1184.1" x2="1481.7" y2="1151.5" stroke="#000" stroke-width="2.9" stroke-dasharray="6.5 3.5"/>
<path d="M1472.9,1145.8 L1486.5,1146.0 L1478.6,1158.1 Z" fill="#000"/>
<line x1="1771.6" y1="1153.0" x2="1822.1" y2="1117.8" stroke="#000" stroke-width="2.9"/>
<path d="M1830.7,1111.8 L1825.4,1124.3 L1817.1,1112.5 Z" fill="#000"/>
<line x1="1774.4" y1="1172.2" x2="1806.0" y2="1157.9" stroke="#000" stroke-width="2.9" stroke-dasharray="6.5 3.5"/>
<path d="M1815.6,1153.6 L1808.1,1164.9 L1802.2,1151.8 Z" fill="#000"/>
<text x="1546.4" y="779.3" font-family="'Liberation Serif','Times New Roman',serif" font-size="33.5" font-weight="bold" fill="#000" text-anchor="start" textLength="56.4" lengthAdjust="spacingAndGlyphs" >well</text>
<g transform="translate(1246.3,867.8) rotate(-90)">
<text x="0.0" y="0.0" font-family="'Liberation Serif','Times New Roman',serif" font-size="36.0" font-weight="bold" fill="#000" text-anchor="middle" textLength="101.0" lengthAdjust="spacingAndGlyphs" >GaAsP</text>
</g>
<g transform="translate(1327.3,867.9) rotate(-90)">
<text x="0.0" y="0.0" font-family="'Liberation Serif','Times New Roman',serif" font-size="36.0" font-weight="bold" fill="#000" text-anchor="middle" textLength="79.9" lengthAdjust="spacingAndGlyphs" >GaAs</text>
</g>
<g transform="translate(1835.9,868.8) rotate(-90)">
<text x="0.0" y="0.0" font-family="'Liberation Serif','Times New Roman',serif" font-size="36.0" font-weight="bold" fill="#000" text-anchor="middle" textLength="78.8" lengthAdjust="spacingAndGlyphs" >GaAs</text>
</g>
<g transform="translate(1930.7,866.5) rotate(-90)">
<text x="0.0" y="0.0" font-family="'Liberation Serif','Times New Roman',serif" font-size="36.0" font-weight="bold" fill="#000" text-anchor="middle" textLength="101.6" lengthAdjust="spacingAndGlyphs" >GaAsP</text>
</g>
<text x="1357.4" y="943.6" font-family="'Liberation Serif','Times New Roman',serif" font-size="30.5" font-weight="bold" fill="#000" text-anchor="start" textLength="88.8" lengthAdjust="spacingAndGlyphs" >C edge</text>
<text x="1322.5" y="1078.3" font-family="'Liberation Serif','Times New Roman',serif" font-size="30.5" font-weight="bold" fill="#000" text-anchor="start" textLength="114.9" lengthAdjust="spacingAndGlyphs" >HH edge</text>
<text x="1354.5" y="1147.0" font-family="'Liberation Serif','Times New Roman',serif" font-size="30.5" font-weight="bold" fill="#000" text-anchor="start" textLength="111.3" lengthAdjust="spacingAndGlyphs" >LH edge</text>
<text x="1657.7" y="875.0" font-family="'Liberation Serif','Times New Roman',serif" font-weight="bold" font-size="34.0" fill="#8b00ff">E<tspan font-size="21.0" dy="6.2">C1</tspan></text>
<text x="1838.9" y="1122.8" font-family="'Liberation Serif','Times New Roman',serif" font-weight="bold" font-size="33.0" fill="#0000ff">E<tspan font-size="21.0" dy="6.9">HH1</tspan></text>
<text x="1823.8" y="1170.0" font-family="'Liberation Serif','Times New Roman',serif" font-weight="bold" font-size="33.0" fill="#ff0000">E<tspan font-size="21.0" dy="7.0">LH1</tspan></text>
<rect x="1535.2" y="1018.4" width="160.3" height="73.6" fill="#f0f0f0" stroke="#a0a0a0" stroke-width="1.6"/>
<text x="1545.5" y="1045.8" font-family="'Liberation Serif','Times New Roman',serif" font-weight="bold" font-size="22.5" fill="#000" textLength="136.0" lengthAdjust="spacingAndGlyphs">E<tspan font-size="16" dy="5">g</tspan><tspan dy="-5">=1.2810 eV</tspan></text>
<text x="1616.3" y="1077.1" font-family="'Liberation Serif','Times New Roman',serif" font-size="22.5" font-weight="bold" fill="#000" text-anchor="middle" textLength="91.0" lengthAdjust="spacingAndGlyphs" >(968 nm)</text>
<rect x="1710.7" y="995.7" width="157.1" height="72.7" fill="#f0f0f0" stroke="#a0a0a0" stroke-width="1.6"/>
<text x="1721.5" y="1023.4" font-family="'Liberation Serif','Times New Roman',serif" font-weight="bold" font-size="22.5" fill="#000" textLength="136.0" lengthAdjust="spacingAndGlyphs">E<tspan font-size="16" dy="5">g</tspan><tspan dy="-5">=1.3053 eV</tspan></text>
<text x="1790.2" y="1054.7" font-family="'Liberation Serif','Times New Roman',serif" font-size="22.5" font-weight="bold" fill="#000" text-anchor="middle" textLength="91.0" lengthAdjust="spacingAndGlyphs" >(950 nm)</text>
<line x1="1653.0" y1="1301.4" x2="1944.8" y2="1301.4" stroke="#000" stroke-width="3.3"/>
<path d="M1954.3,1301.4 L1943.8,1309.1 L1943.8,1293.7 Z" fill="#000"/>
<text x="1661.8" y="1343.9" font-family="'Liberation Serif','Times New Roman',serif" font-size="40.5" font-weight="normal" fill="#000" text-anchor="start" textLength="277.9" lengthAdjust="spacingAndGlyphs" >Growth direction</text>
</svg></body></html>
